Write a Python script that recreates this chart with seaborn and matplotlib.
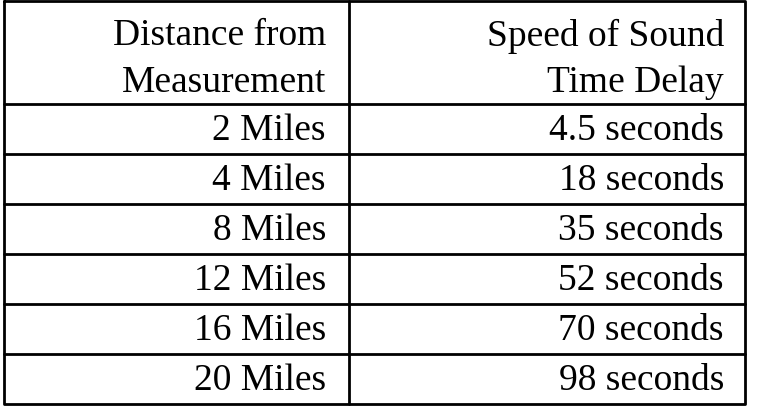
import matplotlib
matplotlib.use("Agg")
import matplotlib.pyplot as plt
import seaborn as sns

header_left = ["Distance from", "Measurement"]
header_right = ["Speed of Sound", "Time Delay"]
distances = ["2 Miles", "4 Miles", "8 Miles", "12 Miles", "16 Miles", "20 Miles"]
delays = ["4.5 seconds", "18 seconds", "35 seconds", "52 seconds", "70 seconds", "98 seconds"]

sns.set_theme(style="white")
plt.rcParams['font.family'] = ['Liberation Serif', 'DejaVu Serif']

fig = plt.figure(figsize=(7.58, 4.13), dpi=100)
ax = fig.add_axes([0, 0, 1, 1])
ax.set_xlim(0, 758)
ax.set_ylim(413, 0)
ax.axis("off")

left, mid, right = 4, 349, 745
top, hdr, rowh = 1, 104, 50
bottom = hdr + rowh * len(distances)
lw = 2
ax.plot([left, right, right, left, left], [top, top, bottom, bottom, top], color="black", lw=lw)
ax.plot([mid, mid], [top, bottom], color="black", lw=lw)
for i in range(len(distances)):
    y = hdr + rowh * i
    ax.plot([left, right], [y, y], color="black", lw=lw)

fs = 27
for j, (a, b) in enumerate(zip(header_left, header_right)):
    y = 36 + j * 47
    ax.text(326, y, a, ha="right", va="center", fontsize=fs, color="black")
    ax.text(724, y, b, ha="right", va="center", fontsize=fs, color="black")
for i, (d, t) in enumerate(zip(distances, delays)):
    y = hdr + rowh * i + 27
    ax.text(326, y, d, ha="right", va="center", fontsize=fs, color="black")
    ax.text(724, y, t, ha="right", va="center", fontsize=fs, color="black")

fig.savefig("out.png", dpi=100, facecolor="white")
